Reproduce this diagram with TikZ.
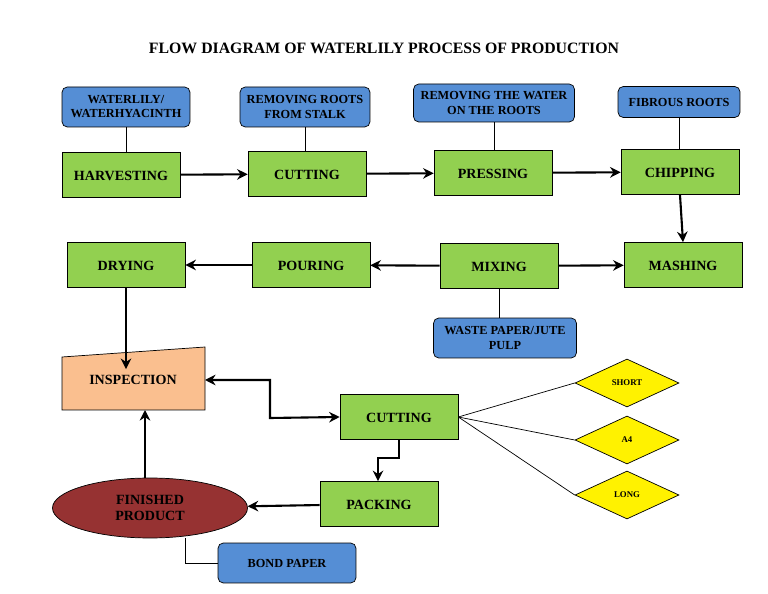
\documentclass[tikz,border=0pt]{standalone}
\usepackage{fontspec}
\setmainfont{Liberation Serif}
\usetikzlibrary{shapes.geometric,arrows.meta}
\definecolor{stepgreen}{RGB}{146,208,80}
\definecolor{noteblue}{RGB}{85,142,213}
\definecolor{peach}{RGB}{250,191,143}
\definecolor{maroon}{RGB}{150,50,50}
\tikzset{
  stage/.style={draw,fill=stepgreen,minimum width=2.36cm,minimum height=0.9cm,font=\bfseries\footnotesize,text height=1.4ex},
  note/.style={draw,fill=noteblue,rounded corners=3pt,font=\bfseries\scriptsize,align=center,minimum height=0.8cm},
  option/.style={diamond,draw,fill=yellow,aspect=2.2,minimum width=2.08cm,minimum height=0.96cm,font=\bfseries\tiny,inner sep=0pt},
  flow/.style={-{Stealth[length=6pt,width=6pt]},line width=1.2pt},
  link/.style={thin}
}
\begin{document}
\begin{tikzpicture}[x=0.02cm,y=-0.02cm]
\useasboundingbox (0,0) rectangle (768,594);
\node[font=\bfseries\small] (title) at (384,48) {FLOW DIAGRAM OF WATERLILY PROCESS OF PRODUCTION};

% first row
\node[stage] (harvest) at (121,175) {HARVESTING};
\node[stage] (cut) at (307,174) {CUTTING};
\node[stage] (press) at (493,173) {PRESSING};
\node[stage] (chip) at (680,172) {CHIPPING};
\node[note,minimum width=2.56cm] (lily) at (126,107) {WATERLILY/\\WATERHYACINTH};
\node[note,minimum width=2.6cm] (roots) at (305,107) {REMOVING ROOTS\\FROM STALK};
\node[note,minimum width=3.22cm,minimum height=0.76cm] (water) at (494,103) {REMOVING THE WATER\\ON THE ROOTS};
\node[note,minimum width=2.44cm,minimum height=0.62cm] (fibre) at (679,102) {FIBROUS ROOTS};

% second row
\node[stage] (dry) at (126,265) {DRYING};
\node[stage] (pour) at (311,265) {POURING};
\node[stage] (mix) at (499,266) {MIXING};
\node[stage] (mash) at (683,265) {MASHING};
\node[note,minimum width=2.86cm] (waste) at (505,338) {WASTE PAPER/JUTE\\PULP};

% lower part
\filldraw[fill=peach] (62,357) -- (205,347) -- (205,410) -- (62,410) -- cycle;
\node[font=\bfseries\footnotesize] (insp) at (133,380) {INSPECTION};
\coordinate (inspR) at (205,380);
\coordinate (inspB) at (145,410);
\node[stage] (cut2) at (399,417) {CUTTING};
\node[stage] (pack) at (379,504) {PACKING};
\node[ellipse,draw,fill=maroon,minimum width=3.9cm,minimum height=1.2cm,font=\bfseries\footnotesize,align=center] (fin) at (150,508) {FINISHED\\PRODUCT};
\node[note,minimum width=2.76cm] (bond) at (287,563) {BOND PAPER};
\node[option] (short) at (627,383) {SHORT};
\node[option] (afour) at (627,440) {A4};
\node[option] (long) at (627,495) {LONG};
\coordinate (fb) at (185,538);
\coordinate (bend1) at (270,418);
\coordinate (bend2) at (378,458);

% thin links
\draw[link] (lily) -- (lily|-harvest.north);
\draw[link] (roots) -- (roots|-cut.north);
\draw[link] (water) -- (water|-press.north);
\draw[link] (fibre) -- (fibre|-chip.north);
\draw[link] (mix) -- (mix|-waste.north);
\draw[link] (fb) |- (bond.west);
\draw[link] (cut2.east) -- (short.west);
\draw[link] (cut2.east) -- (afour.west);
\draw[link] (cut2.east) -- (long.west);

% flow arrows
\draw[flow] (harvest) -- (cut);
\draw[flow] (cut) -- (press);
\draw[flow] (press) -- (chip);
\draw[flow] (chip.south) -- (mash.north);
\draw[flow] (mix) -- (mash);
\draw[flow] (mix) -- (pour);
\draw[flow] (pour) -- (dry);
\draw[flow] (dry.south) -- (dry.south|-insp.north);
\draw[{Stealth[length=6pt,width=6pt]}-{Stealth[length=6pt,width=6pt]},line width=1.2pt] (inspR) -| (bend1) -- (cut2.west);
\draw[flow] (cut2.south) |- (bend2) -- (bend2|-pack.north);
\draw[flow] (pack) -- (fin);
\draw[flow] (fin.north-|inspB) -- (inspB);
\end{tikzpicture}
\end{document}
